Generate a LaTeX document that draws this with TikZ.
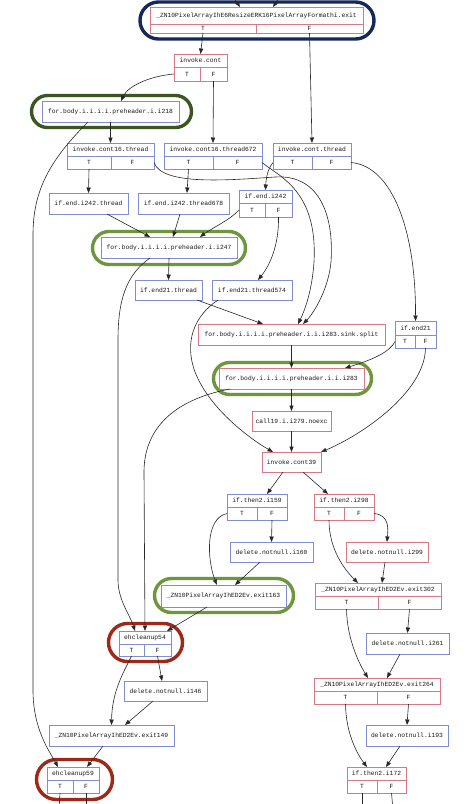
\documentclass[tikz,border=0pt]{standalone}
\usepackage{fontspec}
\setmonofont{Liberation Mono}
\usetikzlibrary{arrows.meta,shapes.misc}
\definecolor{bblue}{RGB}{130,140,210}
\definecolor{rred}{RGB}{215,120,135}
\definecolor{navyc}{RGB}{20,40,90}
\definecolor{dkgreen}{RGB}{60,85,35}
\definecolor{ltgreen}{RGB}{110,150,60}
\definecolor{dkred}{RGB}{160,40,25}
\definecolor{edgec}{RGB}{40,40,40}
\tikzset{
  rbox/.style={rectangle, line width=0.7pt, inner sep=0pt, outer sep=0pt, font=\ttfamily\fontsize{6.3}{7}\selectfont, text=black!90},
  ringst/.style={rounded rectangle, line width=3.4pt, inner sep=0pt, outer sep=0pt},
  cn/.style={draw=edgec, line width=0.6pt, -{Triangle[length=5.5pt,width=4.2pt]}},
  cnplain/.style={draw=edgec, line width=0.6pt}
}
% record node: name, color, x1, y1, ysplit, x2, y2, xdiv, title
\newcommand\recn[9]{%
 \node[rbox, draw=#2, minimum width={(#6-#3)*1pt}, minimum height={(#5-#4)*1pt}] (#1) at ({(#3+#6)/2},{(#4+#5)/2}) {#9};
 \node[rbox, draw=#2, minimum width={(#8-#3)*1pt}, minimum height={(#7-#5)*1pt}] (#1T) at ({(#3+#8)/2},{(#5+#7)/2}) {T};
 \node[rbox, draw=#2, minimum width={(#6-#8)*1pt}, minimum height={(#7-#5)*1pt}] (#1F) at ({(#8+#6)/2},{(#5+#7)/2}) {F};}
% plain node: name, color, x1, y1, x2, y2, text
\newcommand\pnode[7]{%
 \node[rbox, draw=#2, minimum width={(#5-#3)*1pt}, minimum height={(#6-#4)*1pt}] (#1) at ({(#3+#5)/2},{(#4+#6)/2}) {#7};}
% ring: name, color, x1, y1, x2, y2
\newcommand\ringn[6]{%
 \node[ringst, draw=#2, minimum width={(#5-#3)*1pt}, minimum height={(#6-#4)*1pt}] (#1) at ({(#3+#5)/2},{(#4+#6)/2}) {};}
\begin{document}
\begin{tikzpicture}[x=1pt,y=-1pt]
\path[use as bounding box, fill=white] (0,0) rectangle (474,804);
% rings
\ringn{topR}{navyc}{140}{2}{374}{39}
\ringn{i218R}{dkgreen}{31.5}{95.5}{191.5}{127.5}
\ringn{i247R}{ltgreen}{92.5}{231.5}{245.5}{264.5}
\ringn{i283R}{ltgreen}{213.5}{362.5}{371.5}{394.5}
\ringn{ex163R}{ltgreen}{154.5}{578.5}{293.5}{612.5}
\ringn{eh54R}{dkred}{108.5}{623.5}{182.5}{661.5}
\ringn{eh59R}{dkred}{36.5}{759.5}{112.5}{799.5}
% nodes
\recn{top}{rred}{150}{7}{24}{363}{33}{256}{\_ZN10PixelArrayIhE6ResizeERK16PixelArrayFormathi.exit}
\recn{ic}{rred}{174}{54}{67}{227}{81}{200}{invoke.cont}
\pnode{i218}{bblue}{42}{101}{179}{122}{for.body.i.i.i.i.preheader.i.i218}
\recn{ca}{bblue}{67}{143}{156}{154}{169}{111}{invoke.cont16.thread}
\recn{cb}{bblue}{164}{143}{156}{262}{169}{213}{invoke.cont16.thread672}
\recn{cth}{bblue}{273}{143}{156}{351}{169}{312}{invoke.cont.thread}
\pnode{iet}{bblue}{49}{193}{128}{214}{if.end.i242.thread}
\pnode{iett}{bblue}{138}{193}{229}{214}{if.end.i242.thread678}
\recn{ie}{bblue}{239}{190}{203}{292}{217}{265}{if.end.i242}
\pnode{i247}{bblue}{101}{237}{237}{258}{for.body.i.i.i.i.preheader.i.i247}
\pnode{et}{bblue}{135}{280}{202}{300}{if.end21.thread}
\pnode{ett}{bblue}{212}{280}{292}{300}{if.end21.thread574}
\pnode{sink}{rred}{198}{324}{385}{345}{for.body.i.i.i.i.preheader.i.i.i283.sink.split}
\recn{ietw}{bblue}{395}{321}{335}{436}{348}{415}{if.end21}
\pnode{i283}{rred}{219}{368}{364}{389}{for.body.i.i.i.i.preheader.i.i.i283}
\pnode{call}{rred}{252}{411}{331}{431}{call19.i.i279.noexc}
\pnode{ic39}{rred}{262}{452}{321}{472}{invoke.cont39}
\recn{ta}{bblue}{227}{494}{507}{287}{520}{257}{if.then2.i159}
\recn{tb}{rred}{314}{494}{507}{374}{520}{344}{if.then2.i298}
\pnode{dn160}{bblue}{230}{542}{313}{562}{delete.notnull.i160}
\pnode{dn299}{rred}{346}{542}{428}{562}{delete.notnull.i299}
\pnode{ex163}{bblue}{161}{585}{286}{607}{\_ZN10PixelArrayIhED2Ev.exit163}
\recn{exa}{rred}{315}{583}{596}{441}{609}{378}{\_ZN10PixelArrayIhED2Ev.exit302}
\pnode{dn261}{bblue}{366}{633}{449}{654}{delete.notnull.i261}
\recn{eha}{bblue}{119}{631}{644}{171}{656}{144}{ehcleanup54}
\pnode{dn146}{bblue}{124}{681}{207}{701}{delete.notnull.i146}
\pnode{ex149}{bblue}{49}{725}{174}{746}{\_ZN10PixelArrayIhED2Ev.exit149}
\recn{exb}{rred}{314}{678}{691}{440}{704}{377}{\_ZN10PixelArrayIhED2Ev.exit264}
\pnode{dn193}{bblue}{366}{725}{448}{746}{delete.notnull.i193}
\recn{tc}{rred}{347}{767}{780}{406}{793}{377}{if.then2.i172}
\recn{ehb}{bblue}{47}{767}{780}{99}{793}{73}{ehcleanup59}
% off-picture ends
\coordinate (inA) at (230,-8);
\coordinate (inB) at (283,-8);
\coordinate (outA) at (362,810);
\coordinate (outB) at (393,810);
\coordinate (outC) at (59,810);
\coordinate (outD) at (86,810);
% connectors
\draw[cn] (inA) -- ([xshift=-16.5]top.north);
\draw[cn] (inB) -- ([xshift=16.5]top.north);
\draw[cn] (topT.south) -- (ic.north);
\draw[cn] (topF.south) -- (cth.north);
\draw[cn] (icT.west) .. controls (150,76) and (128,86) .. ([xshift=10.5]i218.north);
\draw[cn] (icF.south) -- (cb.north);
\draw[cn] (i218.south) -- (ca.north);
\draw[cn] ([xshift=-22.5]i218.south) .. controls (50,160) and (33,190) .. (33,235) -- (33,690) .. controls (33,730) and (50,752) .. ([xshift=-15]ehb.north);
\draw[cn] (caT.south) -- (iet.north);
\draw[cn] (cbT.south) -- ([xshift=3.5]iett.north);
\draw[cn] (cthT.west) .. controls (267,170) and (266,180) .. (ie.north);
\draw[cn] (caF.east) .. controls (162,186) and (230,180) .. (275,177) .. controls (322,174) and (334,220) .. (331,262) .. controls (328,292) and (312,315) .. ([xshift=11.5]sink.north);
\draw[cn] (cbF.east) .. controls (278,176) and (318,190) .. (314,262) .. controls (312,292) and (304,312) .. ([xshift=6.5]sink.north);
\draw[cn] (cthF.east) .. controls (392,166) and (416,230) .. (ietw.north);
\draw[cn] ([xshift=18.5]iet.south) -- ([xshift=-19]i247.north);
\draw[cn] ([xshift=-3.5]iett.south) -- ([xshift=4]i247.north);
\draw[cn] (ieT.west) .. controls (230,220) and (212,228) .. ([xshift=31]i247.north);
\draw[cn] (ieF.south) .. controls (279,245) and (270,265) .. ([xshift=6]ett.north);
\draw[cn] (i247.south) -- (et.north);
\draw[cn] ([xshift=-19]i247.south) .. controls (126,275) and (118,300) .. (118,340) -- (118,580) .. controls (118,600) and (130,615) .. ([xshift=-10]eha.north);
\draw[cn] ([xshift=28.5]et.south) -- ([xshift=-28.5]sink.north);
\draw[cn] ([xshift=-34]ett.south) .. controls (194,316) and (184,342) .. (195,372) .. controls (210,410) and (252,440) .. ([xshift=-18.5]ic39.north);
\draw[cn] (sink.south) -- (i283.north);
\draw[cn] (ietwT.west) .. controls (390,352) and (372,360) .. ([xshift=53.5]i283.north);
\draw[cn] (ietwF.south) .. controls (425,392) and (362,435) .. (ic39.north east);
\draw[cn] ([xshift=-61.5]i283.south) .. controls (172,400) and (144,430) .. (144,472) -- (eha.north);
\draw[cn] (i283.south) -- (call.north);
\draw[cn] (call.south) -- (ic39.north);
\draw[cn] ([xshift=-8.5]ic39.south) -- ([xshift=10]ta.north);
\draw[cn] ([xshift=11.5]ic39.south) -- ([xshift=-16]tb.north);
\draw[cn] (taT.west) .. controls (205,518) and (207,560) .. ([xshift=-6.5]ex163.north);
\draw[cn] (taF.south) -- (dn160.north);
\draw[cn] ([xshift=-11.5]dn160.south) -- ([xshift=11.5]ex163.north);
\draw[cn] ([xshift=-16.5]ex163.south) -- ([xshift=22]eha.north);
\draw[cn] (tbT.south) .. controls (329,550) and (345,570) .. ([xshift=-20]exa.north);
\draw[cn] (tbF.east) .. controls (390,515) and (388,530) .. (dn299.north);
\draw[cn] ([xshift=-2]dn299.south) -- ([xshift=4]exa.north);
\draw[cn] (exaF.south) -- (dn261.north);
\draw[cn] (exaT.south) .. controls (347,640) and (360,665) .. ([xshift=-9]exb.north);
\draw[cn] ([xshift=-7.5]dn261.south) -- ([xshift=10]exb.north);
\draw[cn] (exbF.south) -- (dn193.north);
\draw[cn] (exbT.south) .. controls (346,735) and (358,755) .. ([xshift=-9.5]tc.north);
\draw[cn] ([xshift=-7]dn193.south) -- ([xshift=9.5]tc.north);
\draw[cnplain] (tcT.south) -- (outA);
\draw[cnplain] (tcF.south) -- (outB);
\draw[cn] (ehaT.south) .. controls (125,670) and (112,690) .. (ex149.north);
\draw[cn] (ehaF.south) -- ([xshift=-3.5]dn146.north);
\draw[cn] ([xshift=-12.5]dn146.south) -- ([xshift=13.5]ex149.north);
\draw[cn] ([xshift=-8.5]ex149.south) -- ([xshift=14]ehb.north);
\draw[cnplain] (ehbT.south) -- (outC);
\draw[cnplain] (ehbF.south) -- (outD);
\end{tikzpicture}
\end{document}
